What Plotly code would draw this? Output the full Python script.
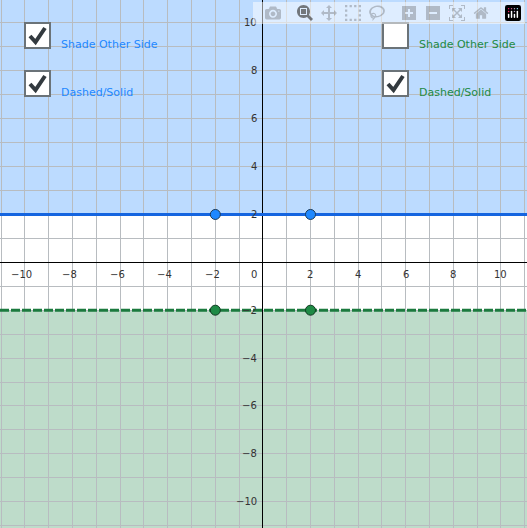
import plotly.graph_objects as go

blue_y = 2
green_y = -2
blue_pts_x = [-2, 2]
green_pts_x = [-2, 2]
tick_vals = [-10, -8, -6, -4, -2, 2, 4, 6, 8, 10]
xr = [-11.05, 11.1]
yr = [-11.1, 10.96]

fig = go.Figure()
fig.add_shape(type="rect", x0=xr[0], x1=xr[1], y0=blue_y, y1=yr[1], fillcolor="rgba(80,160,255,0.38)", line_width=0, layer="below")
fig.add_shape(type="rect", x0=xr[0], x1=xr[1], y0=yr[0], y1=green_y, fillcolor="rgba(40,140,80,0.3)", line_width=0, layer="below")
fig.add_trace(go.Scatter(x=xr, y=[blue_y]*2, mode="lines", line=dict(color="#1565e0", width=3), hoverinfo="skip"))
fig.add_trace(go.Scatter(x=xr, y=[green_y]*2, mode="lines", line=dict(color="#1b7a3e", width=3, dash="9px,2px"), hoverinfo="skip"))
fig.add_trace(go.Scatter(x=blue_pts_x, y=[blue_y]*2, mode="markers", marker=dict(size=10, color="#1e88ff", line=dict(color="#1a3a5a", width=1))))
fig.add_trace(go.Scatter(x=green_pts_x, y=[green_y]*2, mode="markers", marker=dict(size=10, color="#1e8a45", line=dict(color="#0f3a20", width=1))))

ann = []
for v in tick_vals:
    ann.append(dict(x=v, y=0, text=("−" if v < 0 else "") + str(abs(v)), showarrow=False, yshift=-12, xshift=-3 if v < 0 else 0, font=dict(size=10, color="#333", family="DejaVu Sans")))
    ann.append(dict(x=0, y=v, text=("−" if v < 0 else "") + str(abs(v)), showarrow=False, xanchor="right", xshift=-4, font=dict(size=10, color="#333", family="DejaVu Sans")))
ann.append(dict(x=0, y=0, text="0", showarrow=False, xanchor="right", xshift=-4, yshift=-12, font=dict(size=10, color="#333", family="DejaVu Sans")))

W, H = 527, 528
def P(px, py):
    return px / W, 1 - py / H
boxes = [(25, 23, True, "Shade Other Side", "#1e88ff"), (25, 71, True, "Dashed/Solid", "#1e88ff"),
         (383, 23, False, "Shade Other Side", "#1e8a45"), (383, 71, True, "Dashed/Solid", "#1e8a45")]
for px, py, chk, label, col in boxes:
    x0, y1 = P(px, py); x1, y0 = P(px + 25, py + 25)
    fig.add_shape(type="rect", xref="paper", yref="paper", x0=x0, x1=x1, y0=y0, y1=y1,
                  fillcolor="white", line=dict(color="#6b7378", width=2))
    if chk:
        a = P(px + 5, py + 13); b = P(px + 10.5, py + 19); c = P(px + 20, py + 5)
        fig.add_shape(type="path", xref="paper", yref="paper",
                      path=f"M {a[0]} {a[1]} L {b[0]} {b[1]} L {c[0]} {c[1]}",
                      line=dict(color="#333a3f", width=4))
    lx, ly = P(px + 34, py + 12.5)
    ann.append(dict(xref="paper", yref="paper", x=lx, y=ly, text=label, xanchor="left", showarrow=False,
                    font=dict(size=11, color=col, family="DejaVu Sans")))

axis = dict(dtick=1, tick0=0, showgrid=True, gridcolor="#b8bcc0", gridwidth=1, zeroline=True, zerolinecolor="black",
            zerolinewidth=1, showticklabels=False, ticks="")
fig.update_layout(width=527, height=528, margin=dict(l=0, r=0, t=0, b=0), showlegend=False,
                  plot_bgcolor="white", paper_bgcolor="white", annotations=ann,
                  xaxis=dict(range=xr, **axis), yaxis=dict(range=yr, **axis))
fig.write_html("out.html", post_script="document.body.style.margin='0';document.body.style.overflow='hidden';")
